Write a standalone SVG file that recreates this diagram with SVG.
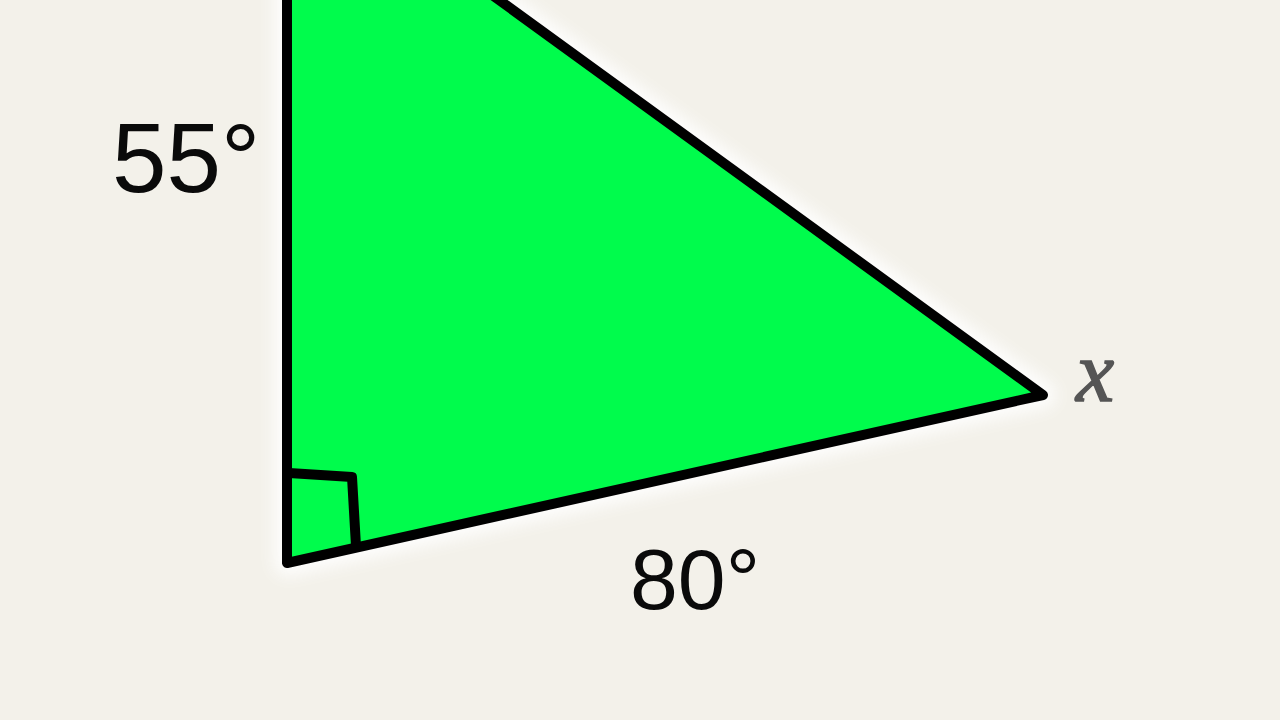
<svg xmlns="http://www.w3.org/2000/svg" width="1280" height="720" viewBox="0 0 1280 720">
  <defs>
    <filter id="glow" x="-20%" y="-20%" width="140%" height="140%">
      <feGaussianBlur stdDeviation="8"/>
    </filter>
    <style>
      .lbl { font-family: "Liberation Sans", Arial, sans-serif; fill: #0a0a0a; }
      .var { font-family: "Liberation Serif", "Times New Roman", serif; font-style: italic; fill: #555; stroke: #555; stroke-width: 1.5; }
      .edge { fill: none; stroke: #000; stroke-width: 10; stroke-linejoin: round; stroke-linecap: round; }
    </style>
  </defs>
  <rect width="1280" height="720" fill="#f3f1ea"/>
  <g id="triangle">
    <polygon points="287,-154 1043,395 287,563" fill="none" stroke="#ffffff" stroke-width="26" stroke-linejoin="round" filter="url(#glow)" opacity="0.9"/>
    <polygon points="287,-154 1043,395 287,563" class="edge" style="fill:#00fc4c"/>
    <polyline class="edge" points="289,473 352,477 356,546"/>
  </g>
  <g id="labels">
    <text class="lbl" x="112" y="192" font-size="98">55°</text>
    <text class="lbl" x="630" y="609" font-size="86">80°</text>
    <text class="var" x="1076" y="401" font-size="86">x</text>
  </g>
</svg>
